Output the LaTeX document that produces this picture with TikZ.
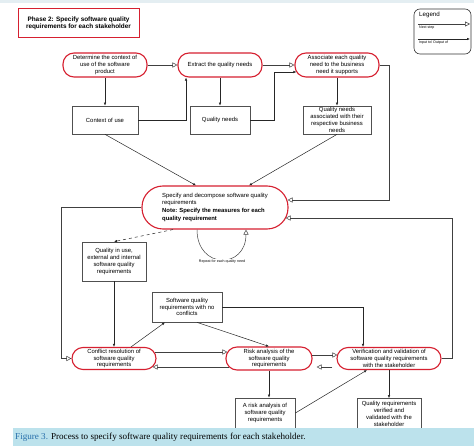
\documentclass[tikz,border=0pt]{standalone}
\usepackage{fontspec}
\setmainfont{Liberation Sans}
\newfontfamily\capfont{Liberation Serif}
\usetikzlibrary{arrows.meta}
\definecolor{redb}{RGB}{214,32,48}
\definecolor{capbg}{RGB}{188,226,236}
\definecolor{topbg}{RGB}{228,238,242}
\definecolor{capblue}{RGB}{38,110,170}
\definecolor{boxgray}{RGB}{80,80,80}
\begin{document}
\begin{tikzpicture}[x=1pt,y=-1pt,
  proc/.style={draw=redb, line width=1.1pt, fill=white, rounded corners=#1, align=center,
    font=\fontsize{5.9}{6.8}\selectfont, inner sep=1pt},
  proc/.default=11,
  obox/.style={draw=boxgray, line width=0.7pt, fill=white, align=center,
    font=\fontsize{5.9}{6.8}\selectfont, inner sep=1pt},
  nx/.style={draw=black!75, line width=0.5pt, -{Triangle[open,length=5pt,width=5pt]}},
  io/.style={draw=black!85, line width=0.5pt, -{Latex[length=3pt,width=2.5pt]}},
  tiny/.style={font=\fontsize{3.6}{4}\selectfont, inner sep=0.5pt}
]
\useasboundingbox (0,0) rectangle (474,446);
\fill[topbg] (0,0) rectangle (474,3);

% title
\node[draw=redb, line width=1pt, minimum width=121, minimum height=29, align=center,
  font=\fontsize{6.4}{7.5}\selectfont\bfseries, inner sep=1pt] (phase) at (78.5,23.5)
  {Phase 2: Specify software quality\\requirements for each stakeholder};

% legend
\node[draw=black!80, line width=0.6pt, rounded corners=6, minimum width=57, minimum height=45] (leg) at (442.5,31.5) {};
\node[anchor=north west, font=\fontsize{6.2}{7}\selectfont, inner sep=0pt] (legt) at (419,11.5) {Legend};
\coordinate (l1a) at (418,24);
\coordinate (l1b) at (470,24);
\coordinate (l2a) at (418,39);
\coordinate (l2b) at (470,39);
\draw[nx] (l1a) -- (l1b);
\draw[io] (l2a) -- (l2b);
\node[tiny, anchor=north west] (legn) at (418.5,25.5) {Next step};
\node[tiny, anchor=north west] (legi) at (418.5,40) {Input to/ Output of};

% top row
\node[proc, minimum width=84, minimum height=24] (det) at (105,65) {Determine the context of\\use of the software\\product};
\node[proc, minimum width=84, minimum height=24] (ext) at (220,65) {Extract the quality needs};
\node[proc, minimum width=84, minimum height=24] (ass) at (337,65) {Associate each quality\\need to the business\\need it supports};

\node[obox, minimum width=66, minimum height=28] (ctx) at (105,120) {Context of use};
\node[obox, minimum width=60, minimum height=28] (qn) at (220,120) {Quality needs};
\node[obox, minimum width=68, minimum height=28] (qna) at (337,120) {Quality needs\\associated with their\\respective business\\needs};

% specify
\node[proc=21, minimum width=146, minimum height=43, align=left] (spec) at (215,207.5)
  {Specify and decompose software quality\\requirements\\[1.2pt]\textbf{Note: Specify the measures for each}\\[1.2pt]\textbf{quality requirement}};

\node[obox, minimum width=64, minimum height=39] (qiu) at (114,261.5) {Quality in use,\\external and internal\\software quality\\requirements};
\node[obox, minimum width=70, minimum height=30] (noc) at (187,307) {Software quality\\requirements with no\\conflicts};

\node[proc, minimum width=84, minimum height=22] (conf) at (114,358.5) {Conflict resolution of\\software quality\\requirements};
\node[proc, minimum width=86, minimum height=23] (risk) at (269,358.5) {Risk analysis of the\\software quality\\requirements};
\node[proc, minimum width=104, minimum height=22] (ver) at (389,358.5) {Verification and validation of\\software quality requirements\\with the stakeholder};

\node[obox, minimum width=60, minimum height=30] (rab) at (265,413) {A risk analysis of\\software quality\\requirements};
\node[obox, minimum width=64, minimum height=31] (qrv) at (389,414) {Quality requirements\\verified and\\validated with the\\stakeholder};

% top connectors
\draw[nx] (det) -- (ext);
\draw[nx] (ext) -- (ass);
\draw[io] (det) -- (ctx);
\draw[io] (ctx.east) -| ([xshift=-34]ext.south);
\draw[io] (ext) -- (qn);
\draw[io] (qn.east) -- ++(24,0) |- ([shift={(2,7)}]ass.west);
\draw[io] (ass) -- (qna);
\draw[nx] (ass.east) -- ++(10,0) |- ([shift={(-1,-7.5)}]spec.east);
\draw[io] (ctx.south) -- ([xshift=-19]spec.north);
\draw[io] (qna.south) -- ([xshift=34]spec.north);

% specify connectors
\draw[nx] (spec.west) -- ++(-80,0) |- (conf.west);
\draw[io, dashed] ([xshift=-42]spec.south) -- (qiu.north);
\draw[nx] ([xshift=-18]spec.south) .. controls +(0,40) and +(0,40) .. ([xshift=31]spec.south);
\node[tiny, fill=white] (rep) at (222,261.5) {Repeat for each quality need};
\draw[nx] (ver.east) -- ++(11,0) |- ([shift={(-3,10.5)}]spec.east);

% bottom connectors
\draw[io] (qiu.south) -- (conf.north);
\draw[io] ([xshift=17]conf.north) -- ([xshift=-22]noc.south);
\draw[io] ([xshift=10]noc.south) -- (risk.north);
\draw[io] (noc.east) -| ([xshift=-26]ver.north);
\draw[nx] ([shift={(-2,-6.5)}]conf.east) -- ([shift={(2,-6.5)}]risk.west);
\draw[nx] ([shift={(-1,-3.5)}]risk.east) -- ([shift={(1,-3.5)}]ver.west);
\draw[nx] ([shift={(-4,8.5)}]ver.west) -- ([shift={(4,8.5)}]risk.east);
\draw[nx] ([shift={(4,8.5)}]risk.west) -- ([shift={(-4,8.5)}]conf.east);
\draw[io] (risk.south) -- (risk.south |- rab.north);
\draw[io] (rab.east) -- ([xshift=-22]ver.south);
\draw[io] (ver.south) -- (qrv.north);

% caption
\fill[capbg] (13,428) rectangle (474,446);
\node[anchor=west, inner sep=0pt, font=\capfont\fontsize{9.1}{10}\selectfont] (cap) at (15,437.5)
  {\textcolor{capblue}{Figure 3.} Process to specify software quality requirements for each stakeholder.};
\end{tikzpicture}
\end{document}
